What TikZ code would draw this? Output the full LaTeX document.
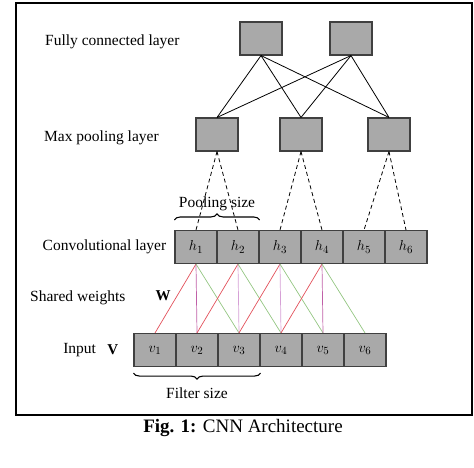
\documentclass[tikz,border=0pt]{standalone}
\usepackage{fontspec}
\setmainfont{Liberation Serif}
\usepackage{tikz}
\usetikzlibrary{positioning, decorations.pathreplacing}
\definecolor{cellgray}{HTML}{A9A9A9}
\definecolor{wred}{HTML}{E2505A}
\definecolor{wgreen}{HTML}{94C682}
\definecolor{wmag}{HTML}{C060A8}
\definecolor{wmaglight}{HTML}{D6A0D6}
\tikzset{
  cell/.style={draw=black!75, line width=1.1pt, fill=cellgray, minimum width=42pt,
    minimum height=33pt, inner sep=0pt, font=\fontsize{15}{17}\selectfont},
  unitbox/.style={cell, minimum width=42pt, minimum height=33pt},
  layerlabel/.style={font=\fontsize{15.5}{17}\selectfont, inner sep=0pt},
  fcline/.style={line width=0.8pt, black},
  poolline/.style={line width=0.8pt, dash pattern=on 4pt off 3pt},
  wline/.style={line width=0.7pt},
  bracedeco/.style={decorate, decoration={brace, amplitude=6pt}, line width=1.1pt},
}
\begin{document}
\begin{tikzpicture}[x=1pt, y=-1pt]
  \useasboundingbox (0,0) rectangle (474,467);
  \draw[line width=1.4pt] (16,3) rectangle (472,415);

  % fully connected and pooling units
  \node[unitbox] (fc1) at (261,38.5) {};
  \node[unitbox] (fc2) at (351,38.5) {};
  \foreach \k/\x in {1/217,2/301,3/389}{
    \node[unitbox] (mp\k) at (\x,134.5) {};
  }
  \foreach \f in {1,2}{
    \foreach \k in {1,2,3}{
      \draw[fcline] (fc\f.south) -- (mp\k.north);
    }
  }

  % convolutional layer and input
  \foreach \i in {1,...,6}{
    \node[cell] (h\i) at ({196+42*(\i-1)},247) {$h_{\i}$};
    \node[cell] (v\i) at ({155+42*(\i-1)},350) {$v_{\i}$};
  }
  \foreach \k/\a/\b in {1/1/2,2/3/4,3/5/6}{
    \draw[poolline] (mp\k.south) -- (h\a.north);
    \draw[poolline] (mp\k.south) -- (h\b.north);
  }

  % shared weights
  \foreach \i/\m in {1/wmag,2/wmaglight,3/wmaglight,4/wmag}{
    \pgfmathtruncatemacro{\nb}{\i+1}
    \pgfmathtruncatemacro{\nc}{\i+2}
    \draw[wline, wred] (v\i.north) -- (h\i.south);
    \draw[wline, \m] (h\i.south) -- (v\nb.north);
    \draw[wline, wgreen] (h\i.south) -- (v\nc.north);
  }

  % labels
  \node[layerlabel, anchor=west] (lfc) at (45,42) {Fully connected layer};
  \node[layerlabel, anchor=west] (lmp) at (44,138) {Max pooling layer};
  \node[layerlabel, left=8pt of h1] (lconv) {Convolutional layer};
  \node[layerlabel, anchor=west] (lsw) at (30,298) {Shared weights};
  \node[layerlabel, font=\bfseries\fontsize{15}{17}\selectfont] (lw) at (163,296) {W};
  \node[layerlabel, font=\bfseries\fontsize{15}{17}\selectfont, left=15pt of v1] (lv) {V};
  \node[layerlabel, left=11pt of lv] (lin) {Input};

  % braces
  \draw[bracedeco] ([yshift=10pt]h1.north west) -- ([yshift=10pt]h2.north east)
    node[layerlabel, midway, above=9pt] (lpool) {Pooling size};
  \draw[bracedeco] ([yshift=-6pt]v3.south east) -- ([yshift=-6pt]v1.south west)
    node[layerlabel, midway, below=14pt] (lfilter) {Filter size};

  \node[font=\fontsize{19}{21}\selectfont] (cap) at (243,428) {\textbf{Fig. 1:} CNN Architecture};
\end{tikzpicture}
\end{document}
